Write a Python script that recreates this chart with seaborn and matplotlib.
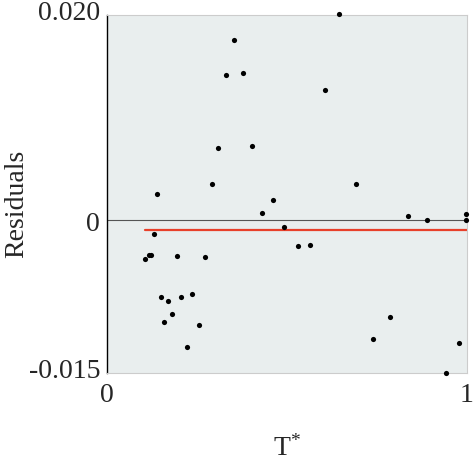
import numpy as np
import pandas as pd
import matplotlib
matplotlib.use("Agg")
import matplotlib.pyplot as plt
import matplotlib.transforms as mtransforms
import seaborn as sns

# Data
t_star = [0.645, 0.354, 0.330, 0.377, 0.606, 0.307, 0.404, 0.291, 0.691,
          0.140, 0.430, 0.461, 0.836, 0.888, 0.997, 0.998, 0.492, 0.131,
          0.531, 0.565, 0.106, 0.116, 0.123, 0.194, 0.271, 0.151, 0.170,
          0.206, 0.237, 0.159, 0.181, 0.255, 0.222, 0.739, 0.786, 0.977,
          0.942]
residuals = [0.0201, 0.0176, 0.0141, 0.01436, 0.01264, 0.0070, 0.00722,
             0.00351, 0.00351, 0.0025, 0.00067, 0.0019, 0.00038, -0.00005,
             0.00055, -0.00002, -0.00075, -0.00144, -0.00258, -0.00251,
             -0.00382, -0.00343, -0.00343, -0.00353, -0.00366, -0.0076,
             -0.00793, -0.0076, -0.00724, -0.00998, -0.00923, -0.01028,
             -0.01246, -0.01170, -0.00952, -0.01210, -0.01497]
fit_x = [0.106, 1.0]
fit_y = [-0.00105, -0.00105]
y_ticks = [-0.015, 0, 0.020]
y_tick_labels = ["-0.015", "0", "0.020"]
x_ticks = [0, 1]
x_tick_labels = ["0", "1"]

df = pd.DataFrame({"T": t_star, "R": residuals})
fit_df = pd.DataFrame({"T": fit_x, "R": fit_y})

sns.set_theme(style="white")
plt.rcParams["font.family"] = "serif"
plt.rcParams["font.serif"] = ["Liberation Serif", "Times New Roman", "DejaVu Serif"]
plt.rcParams["mathtext.fontset"] = "custom"
plt.rcParams["mathtext.rm"] = "Liberation Serif"
plt.rcParams["mathtext.it"] = "Liberation Serif:italic"

fig = plt.figure(figsize=(4.74, 4.66), dpi=100)
ax = fig.add_axes([0.2257, 0.1996, 0.7595, 0.7682])
ax.set_facecolor("#e9eeee")

ax.axhline(0, color="#555555", linewidth=0.8, zorder=1)
sns.lineplot(data=fit_df, x="T", y="R", ax=ax, color="#e8402a",
             linewidth=1.6, zorder=2)
sns.scatterplot(data=df, x="T", y="R", ax=ax, color="black", s=14,
                edgecolor="black", linewidth=0, zorder=3, clip_on=False)

ax.set_xlim(0, 1)
ax.set_ylim(-0.015, 0.020)
ax.set_yticks(y_ticks)
ax.set_yticklabels(y_tick_labels, fontsize=20)
ax.set_xticks(x_ticks)
ax.set_xticklabels(x_tick_labels, fontsize=20)
ax.tick_params(axis="y", length=0, pad=5)
ax.tick_params(axis="x", length=0, pad=7)
ax.set_xlabel("T$^{\\mathrm{*}}$", fontsize=20, labelpad=20)
ax.set_ylabel("Residuals", fontsize=20)
ax.yaxis.set_label_coords(-0.217, 0.472)

# small vertical nudges of the y tick labels, as in the reference
nudges_pt = [3.0, -1.5, 3.0]
for tick, dy in zip(ax.yaxis.get_major_ticks(), nudges_pt):
    lbl = tick.label1
    lbl.set_transform(lbl.get_transform() +
                      mtransforms.ScaledTranslation(0, dy / 72, fig.dpi_scale_trans))

for side in ["top", "right", "bottom"]:
    ax.spines[side].set_color("#cccccc")
    ax.spines[side].set_linewidth(0.8)
ax.spines["left"].set_color("black")
ax.spines["left"].set_linewidth(1.0)

fig.savefig("out.png", dpi=100)
